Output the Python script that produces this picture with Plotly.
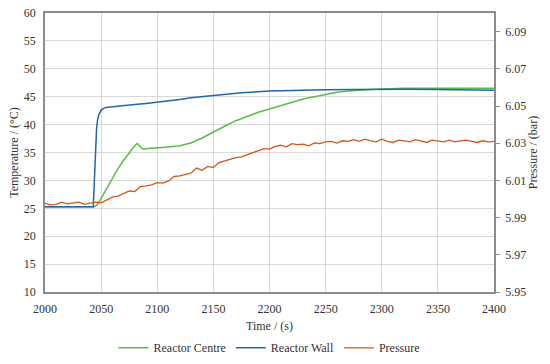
import plotly.graph_objects as go

# Reactor Centre temperature (°C)
centre_t = [2000, 2044, 2046, 2048, 2050, 2055, 2060, 2065, 2070, 2075, 2080, 2082, 2084, 2086, 2088,
            2092, 2100, 2110, 2120, 2130, 2140, 2150, 2160, 2170, 2180, 2190, 2200, 2210, 2220, 2230,
            2240, 2250, 2260, 2270, 2280, 2290, 2300, 2320, 2350, 2400]
centre_v = [25.3, 25.3, 25.5, 26.0, 26.8, 28.6, 30.4, 32.1, 33.6, 35.0, 36.2, 36.6, 36.3, 35.8, 35.6,
            35.7, 35.8, 36.0, 36.2, 36.7, 37.6, 38.7, 39.7, 40.7, 41.5, 42.2, 42.8, 43.4, 44.0, 44.6,
            45.0, 45.4, 45.8, 46.0, 46.2, 46.3, 46.4, 46.5, 46.5, 46.5]

# Reactor Wall temperature (°C)
wall_t = [2000, 2043, 2044, 2045, 2046, 2047, 2048, 2050, 2053, 2056, 2060, 2070, 2080, 2090, 2100,
          2110, 2120, 2130, 2140, 2150, 2160, 2175, 2200, 2225, 2250, 2275, 2300, 2325, 2350, 2375, 2400]
wall_v = [25.3, 25.3, 30.0, 36.5, 39.5, 41.0, 41.8, 42.6, 43.0, 43.1, 43.2, 43.4, 43.6, 43.8, 44.0,
          44.3, 44.5, 44.8, 45.0, 45.3, 45.5, 45.7, 46.0, 46.15, 46.25, 46.3, 46.35, 46.35, 46.3, 46.2, 46.15]

# Pressure (bar), every 5 s
pressure_t = list(range(2000, 2401, 5))
pressure_v = [5.9977, 5.9968, 5.9971, 5.9983, 5.9974, 5.9980, 5.9983, 5.9971, 5.9977, 5.9983,
              5.9980, 5.9995, 6.0010, 6.0016, 6.0028, 6.0043, 6.0040, 6.0067, 6.0070, 6.0076,
              6.0088, 6.0085, 6.0097, 6.0121, 6.0124, 6.0133, 6.0139, 6.0166, 6.0154, 6.0175,
              6.0169, 6.0196, 6.0205, 6.0211, 6.0223, 6.0226, 6.0238, 6.0250, 6.0259, 6.0271,
              6.0268, 6.0283, 6.0289, 6.0280, 6.0298, 6.0292, 6.0295, 6.0286, 6.0301, 6.0298,
              6.0307, 6.0310, 6.0301, 6.0313, 6.0310, 6.0319, 6.0310, 6.0322, 6.0313, 6.0307,
              6.0322, 6.0310, 6.0304, 6.0316, 6.0313, 6.0307, 6.0319, 6.0310, 6.0304, 6.0316,
              6.0310, 6.0307, 6.0316, 6.0307, 6.0313, 6.0316, 6.0310, 6.0304, 6.0313, 6.0307,
              6.0310]

x_ticks = [2000, 2050, 2100, 2150, 2200, 2250, 2300, 2350, 2400]
y_ticks = [10, 15, 20, 25, 30, 35, 40, 45, 50, 55, 60]
p_ticks = [5.95, 5.97, 5.99, 6.01, 6.03, 6.05, 6.07, 6.09]

FONT = "Liberation Serif, Times New Roman, serif"
GRID = "#d9d9d9"
FRAME = "#8c8c8c"
TXT = "#333333"
tf = dict(family=FONT, size=12, color=TXT)

fig = go.Figure()
fig.add_trace(go.Scatter(x=centre_t, y=centre_v, mode="lines", name="Reactor Centre",
                         line=dict(color="#5cbc4a", width=1.5)))
fig.add_trace(go.Scatter(x=wall_t, y=wall_v, mode="lines", name="Reactor Wall",
                         line=dict(color="#1f68a8", width=1.5)))
fig.add_trace(go.Scatter(x=pressure_t, y=pressure_v, mode="lines", name="Pressure", yaxis="y2",
                         line=dict(color="#d0581a", width=1.3)))

fig.update_layout(
    width=550, height=364,
    margin=dict(l=45, r=56, t=13, b=72, autoexpand=False),
    paper_bgcolor="white", plot_bgcolor="white",
    font=tf,
    showlegend=True,
    legend=dict(orientation="h", x=0.5, xanchor="center", y=-0.2, yanchor="middle",
                font=tf, itemwidth=30, traceorder="normal"),
    xaxis=dict(range=[2000, 2400], tickvals=x_ticks, showgrid=True, gridcolor=GRID, gridwidth=1,
               showline=True, linecolor=FRAME, linewidth=1.5, mirror=True, ticks="",
               automargin=False, tickfont=tf, ticklabelstandoff=5,
               zeroline=False, title=dict(text="Time / (s)", standoff=6, font=tf)),
    yaxis=dict(range=[10, 60], tickvals=y_ticks, showgrid=True, gridcolor=GRID, gridwidth=1,
               showline=True, linecolor=FRAME, linewidth=1.5, mirror=True, ticks="",
               automargin=False, tickfont=tf, ticklabelstandoff=5,
               zeroline=False, title=dict(text="Temperature / (°C)", standoff=3, font=tf)),
    yaxis2=dict(range=[5.95, 6.10], tickvals=p_ticks, tickformat=".2f", overlaying="y", side="right",
                showgrid=False, showline=True, linecolor=FRAME, linewidth=1.5, ticks="outside",
                ticklen=4, tickcolor=FRAME, zeroline=False, automargin=False, tickfont=tf,
                ticklabelstandoff=3,
                title=dict(text="Pressure / (bar)", standoff=2, font=tf)),
)

fig.write_html("out.html", config={"displayModeBar": False},
               post_script="document.body.style.margin='0';document.body.style.padding='0';")
